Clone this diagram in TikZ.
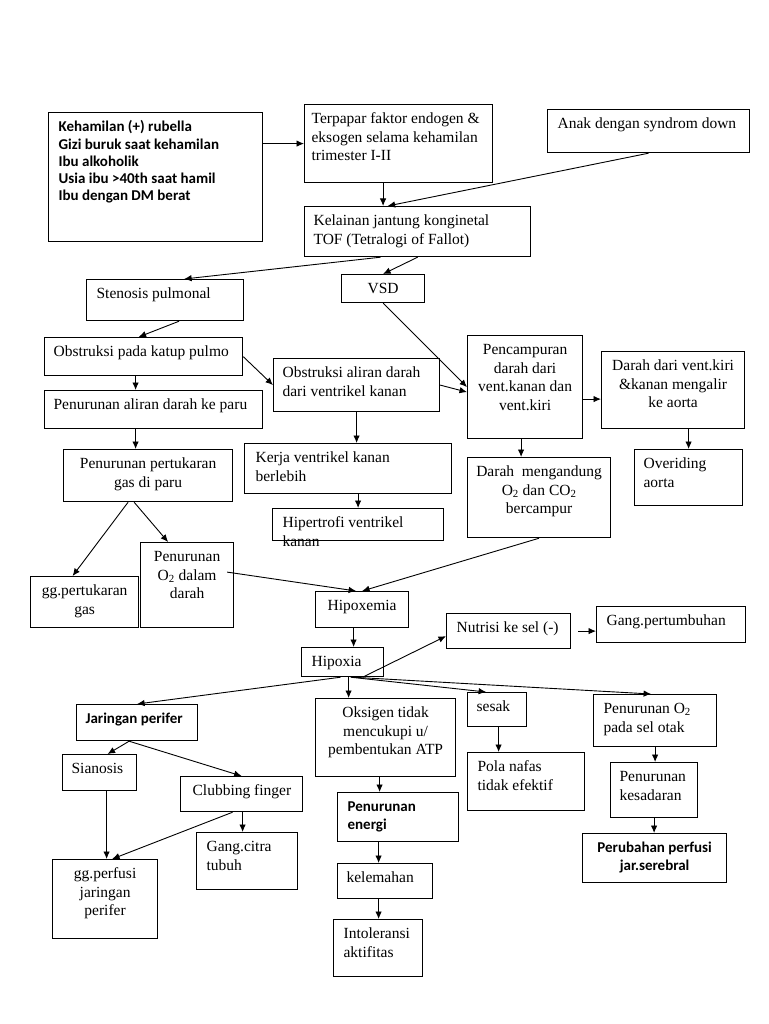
\documentclass[tikz,border=0pt]{standalone}
\usepackage{fontspec}
\setmainfont{Liberation Serif}
\newfontfamily\calibri{Carlito}
\usetikzlibrary{arrows.meta}

\newcommand{\serifsize}{\fontsize{15.5}{18.5}\selectfont\def\tpad{6pt}}
\newcommand{\boldsans}{\calibri\bfseries\fontsize{15}{17.3}\selectfont\def\tpad{7pt}}

% box text, top aligned: left (with left padding) or centred
\newcommand{\ltext}[4][10]{\parbox[t][#3pt][t]{#2pt}{\vspace*{\tpad}\hspace*{#1pt}\begin{tabular}[t]{@{}l@{}}#4\end{tabular}}}
\newcommand{\ctext}[3]{\parbox[t][#2pt][t]{#1pt}{\vspace*{\tpad}\centering\begin{tabular}[t]{@{}c@{}}#3\end{tabular}}}

\tikzstyle{box}=[draw, line width=1.2pt, anchor=north west, inner sep=0pt, font=\serifsize]
\tikzstyle{bold box}=[box, font=\boldsans]
\tikzstyle{edge}=[draw, line width=0.9pt, -{Latex[length=7.5pt,width=6.5pt]}]

\begin{document}
\begin{tikzpicture}[x=1pt,y=-1pt]
    \useasboundingbox (0,0) rectangle (768,1024);
    % Top: causes
    \node[bold box] (risk) at (48,112) {\ltext{214}{129}{Kehamilan (+) rubella\\Gizi buruk saat kehamilan\\Ibu alkoholik\\Usia ibu >40th saat hamil\\Ibu dengan DM berat}};
    \node[box] (terpapar) at (304,104) {\ltext[7]{188}{78}{Terpapar faktor endogen \&\\eksogen selama kehamilan\\trimester I-II}};
    \node[box] (anak) at (547,109) {\ltext{202}{43}{Anak dengan syndrom down}};
    \node[box] (kelainan) at (304,206) {\ltext[9]{226}{50}{Kelainan jantung konginetal\\TOF (Tetralogi of Fallot)}};

    % Stenosis branch
    \node[box] (stenosis) at (86,279) {\ltext{157}{41}{Stenosis pulmonal}};
    \node[box] (obspulmo) at (44,337) {\ltext[9]{198}{38}{Obstruksi pada katup pulmo}};
    \node[box] (aliran) at (44,390) {\ltext[9]{218}{38}{Penurunan aliran darah ke paru}};
    \node[box] (pertukaran) at (63,449) {\ctext{169}{52}{Penurunan pertukaran\\gas di paru}};
    \node[box] (obsaliran) at (273,358) {\ltext[9]{166}{53}{Obstruksi aliran darah\\dari ventrikel kanan}};
    \node[box] (kerja) at (244,443) {\ltext[11]{207}{50}{Kerja ventrikel kanan\\berlebih}};
    \node[box] (hipertrofi) at (272,508) {\ltext{171}{32}{Hipertrofi ventrikel\\kanan}};

    % VSD branch
    \node[box] (vsd) at (341,274) {\ctext{83}{28}{VSD}};
    \node[box] (pencampuran) at (467,335) {\ctext{115}{103}{Pencampuran\\darah dari\\vent.kanan dan\\vent.kiri}};
    \node[box] (darahdari) at (601,351) {\ctext{143}{77}{Darah dari vent.kiri\\\&kanan mengalir\\ke aorta}};
    \node[box] (overiding) at (634,449) {\ltext[9]{108}{56}{Overiding\\aorta}};
    \node[box] (mengandung) at (467,457) {\ctext{143}{80}{Darah\ \ mengandung\\O\textsubscript{2} dan CO\textsubscript{2}\\bercampur}};

    % Middle
    \node[box] (ggpert) at (30,576) {\ctext{108}{51}{gg.pertukaran\\gas}};
    \node[box] (turunO2) at (140,542) {\ctext{93}{85}{Penurunan\\O\textsubscript{2} dalam\\darah}};
    \node[box] (hipoxemia) at (315,591) {\ctext{93}{36}{Hipoxemia}};
    \node[box] (hipoxia) at (301,647) {\ltext{82}{29}{Hipoxia}};
    \node[box] (nutrisi) at (446,613) {\ltext{124}{35}{Nutrisi ke sel (-)}};
    \node[box] (pertumbuhan) at (596,606) {\ltext{149}{36}{Gang.pertumbuhan}};

    % Bottom
    \node[bold box] (jaringan) at (76,704) {\ltext[9]{121}{36}{Jaringan perifer}};
    \node[box] (sianosis) at (62,754) {\ltext[9]{74}{36}{Sianosis}};
    \node[box] (clubbing) at (180,776) {\ltext[12]{122}{35}{Clubbing finger}};
    \node[box] (citra) at (196,832) {\ltext{101}{57}{Gang.citra\\tubuh}};
    \node[box] (perfusi) at (52,859) {\ctext{105}{79}{gg.perfusi\\jaringan\\perifer}};
    \node[box] (oksigen) at (315,698) {\ctext{140}{78}{Oksigen tidak\\mencukupi u/\\pembentukan ATP}};
    \node[bold box] (energi) at (337,792) {\ltext{121}{49}{Penurunan\\energi}};
    \node[box] (kelemahan) at (337,863) {\ltext[9]{95}{35}{kelemahan}};
    \node[box] (intoleransi) at (333,919) {\ltext{89}{57}{Intoleransi\\aktifitas}};
    \node[box] (sesak) at (467,692) {\ltext[9]{59}{34}{sesak}};
    \node[box] (pola) at (467,752) {\ltext{117}{58}{Pola nafas\\tidak efektif}};
    \node[box] (otak) at (593,694) {\ltext{123}{52}{Penurunan O\textsubscript{2}\\pada sel otak}};
    \node[box] (kesadaran) at (610,762) {\ltext[9]{87}{55}{Penurunan\\kesadaran}};
    \node[bold box] (perubahan) at (582,833) {\ctext{144}{49}{Perubahan perfusi\\jar.serebral}};

    % Connect boxes
    \foreach \source/\dest in {obspulmo.east/obsaliran.west, mengandung.south/hipoxemia.north,
        vsd.south/pencampuran.west, kelainan.south/vsd.north}
        \path[edge] (\source) -- (\dest);

    \path[edge] (risk.east |- terpapar.west) -- (terpapar.west);
    \path[edge] (terpapar.south -| vsd.north) -- (kelainan.north -| vsd.north);
    \path[edge] (anak.south) -- ([xshift=-30pt]kelainan.north);
    \path[edge] ([xshift=-37pt]kelainan.south) -- ([xshift=19pt]stenosis.north);
    \path[edge] ([xshift=14pt]stenosis.south) -- ([xshift=-5pt]obspulmo.north);
    \path[edge] ([xshift=-8pt]obspulmo.south) -- ([xshift=-18pt]aliran.north);
    \path[edge] ([xshift=-18pt]aliran.south) -- ([xshift=-12.5pt]pertukaran.north);
    \path[edge] (obsaliran.east) -- ([yshift=-5pt]pencampuran.west);
    \path[edge] (obsaliran.south) -- (obsaliran.south |- kerja.north);
    \path[edge] (hipertrofi.north |- kerja.south) -- (hipertrofi.north);
    \path[edge] ([yshift=-12pt]pencampuran.east) -- ([yshift=-9pt]darahdari.west);
    \path[edge] (overiding.north |- darahdari.south) -- (overiding.north);
    \path[edge] ([xshift=-4pt]pencampuran.south) -- ([xshift=-18pt]mengandung.north);
    \path[edge] ([xshift=-20pt]pertukaran.south) -- ([xshift=-12pt]ggpert.north);
    \path[edge] ([xshift=-14pt]pertukaran.south) -- ([xshift=-19pt]turunO2.north);
    \path[edge] ([xshift=-7pt,yshift=13pt]turunO2.east) -- ([xshift=-6pt]hipoxemia.north);
    \path[edge] ([xshift=-8.5pt]hipoxemia.south) -- ([xshift=11pt]hipoxia.north);
    \path[edge] ([xshift=20pt]hipoxia.south) -- ([yshift=-5pt]nutrisi.west);
    \path[edge] ([xshift=7pt]nutrisi.east) -- (nutrisi.east -| pertumbuhan.west);
    \path[edge] ([xshift=-2pt]hipoxia.south) -- (jaringan.north);
    \path[edge] ([xshift=6pt]hipoxia.south) -- ([xshift=-37pt]oksigen.north);
    \path[edge] ([xshift=8pt]hipoxia.south) -- ([xshift=-11pt]sesak.north);
    \path[edge] ([xshift=10pt]hipoxia.south) -- ([xshift=-4pt]otak.north);
    \path[edge] ([xshift=-8pt]jaringan.south) -- ([xshift=8pt]sianosis.north);
    \path[edge] ([xshift=-8pt]jaringan.south) -- (clubbing.north);
    \path[edge] ([xshift=7pt]sianosis.south) -- ([xshift=1.5pt]perfusi.north);
    \path[edge] ([xshift=-9pt]clubbing.south) -- ([xshift=7pt]perfusi.north);
    \path[edge] ([xshift=1pt]clubbing.south) -- ([xshift=-4.5pt]citra.north);
    \path[edge] ([xshift=-6pt]oksigen.south) -- ([xshift=-18.5pt]energi.north);
    \path[edge] ([xshift=-19.5pt]energi.south) -- ([xshift=-6.5pt]kelemahan.north);
    \path[edge] ([xshift=-6.5pt]kelemahan.south) -- ([xshift=0.5pt]intoleransi.north);
    \path[edge] ([xshift=1.5pt]sesak.south) -- ([xshift=-27.5pt]pola.north);
    \path[edge] (otak.south) -- (otak.south |- kesadaran.north);
    \path[edge] (kesadaran.south) -- (kesadaran.south |- perubahan.north);
\end{tikzpicture}
\end{document}
